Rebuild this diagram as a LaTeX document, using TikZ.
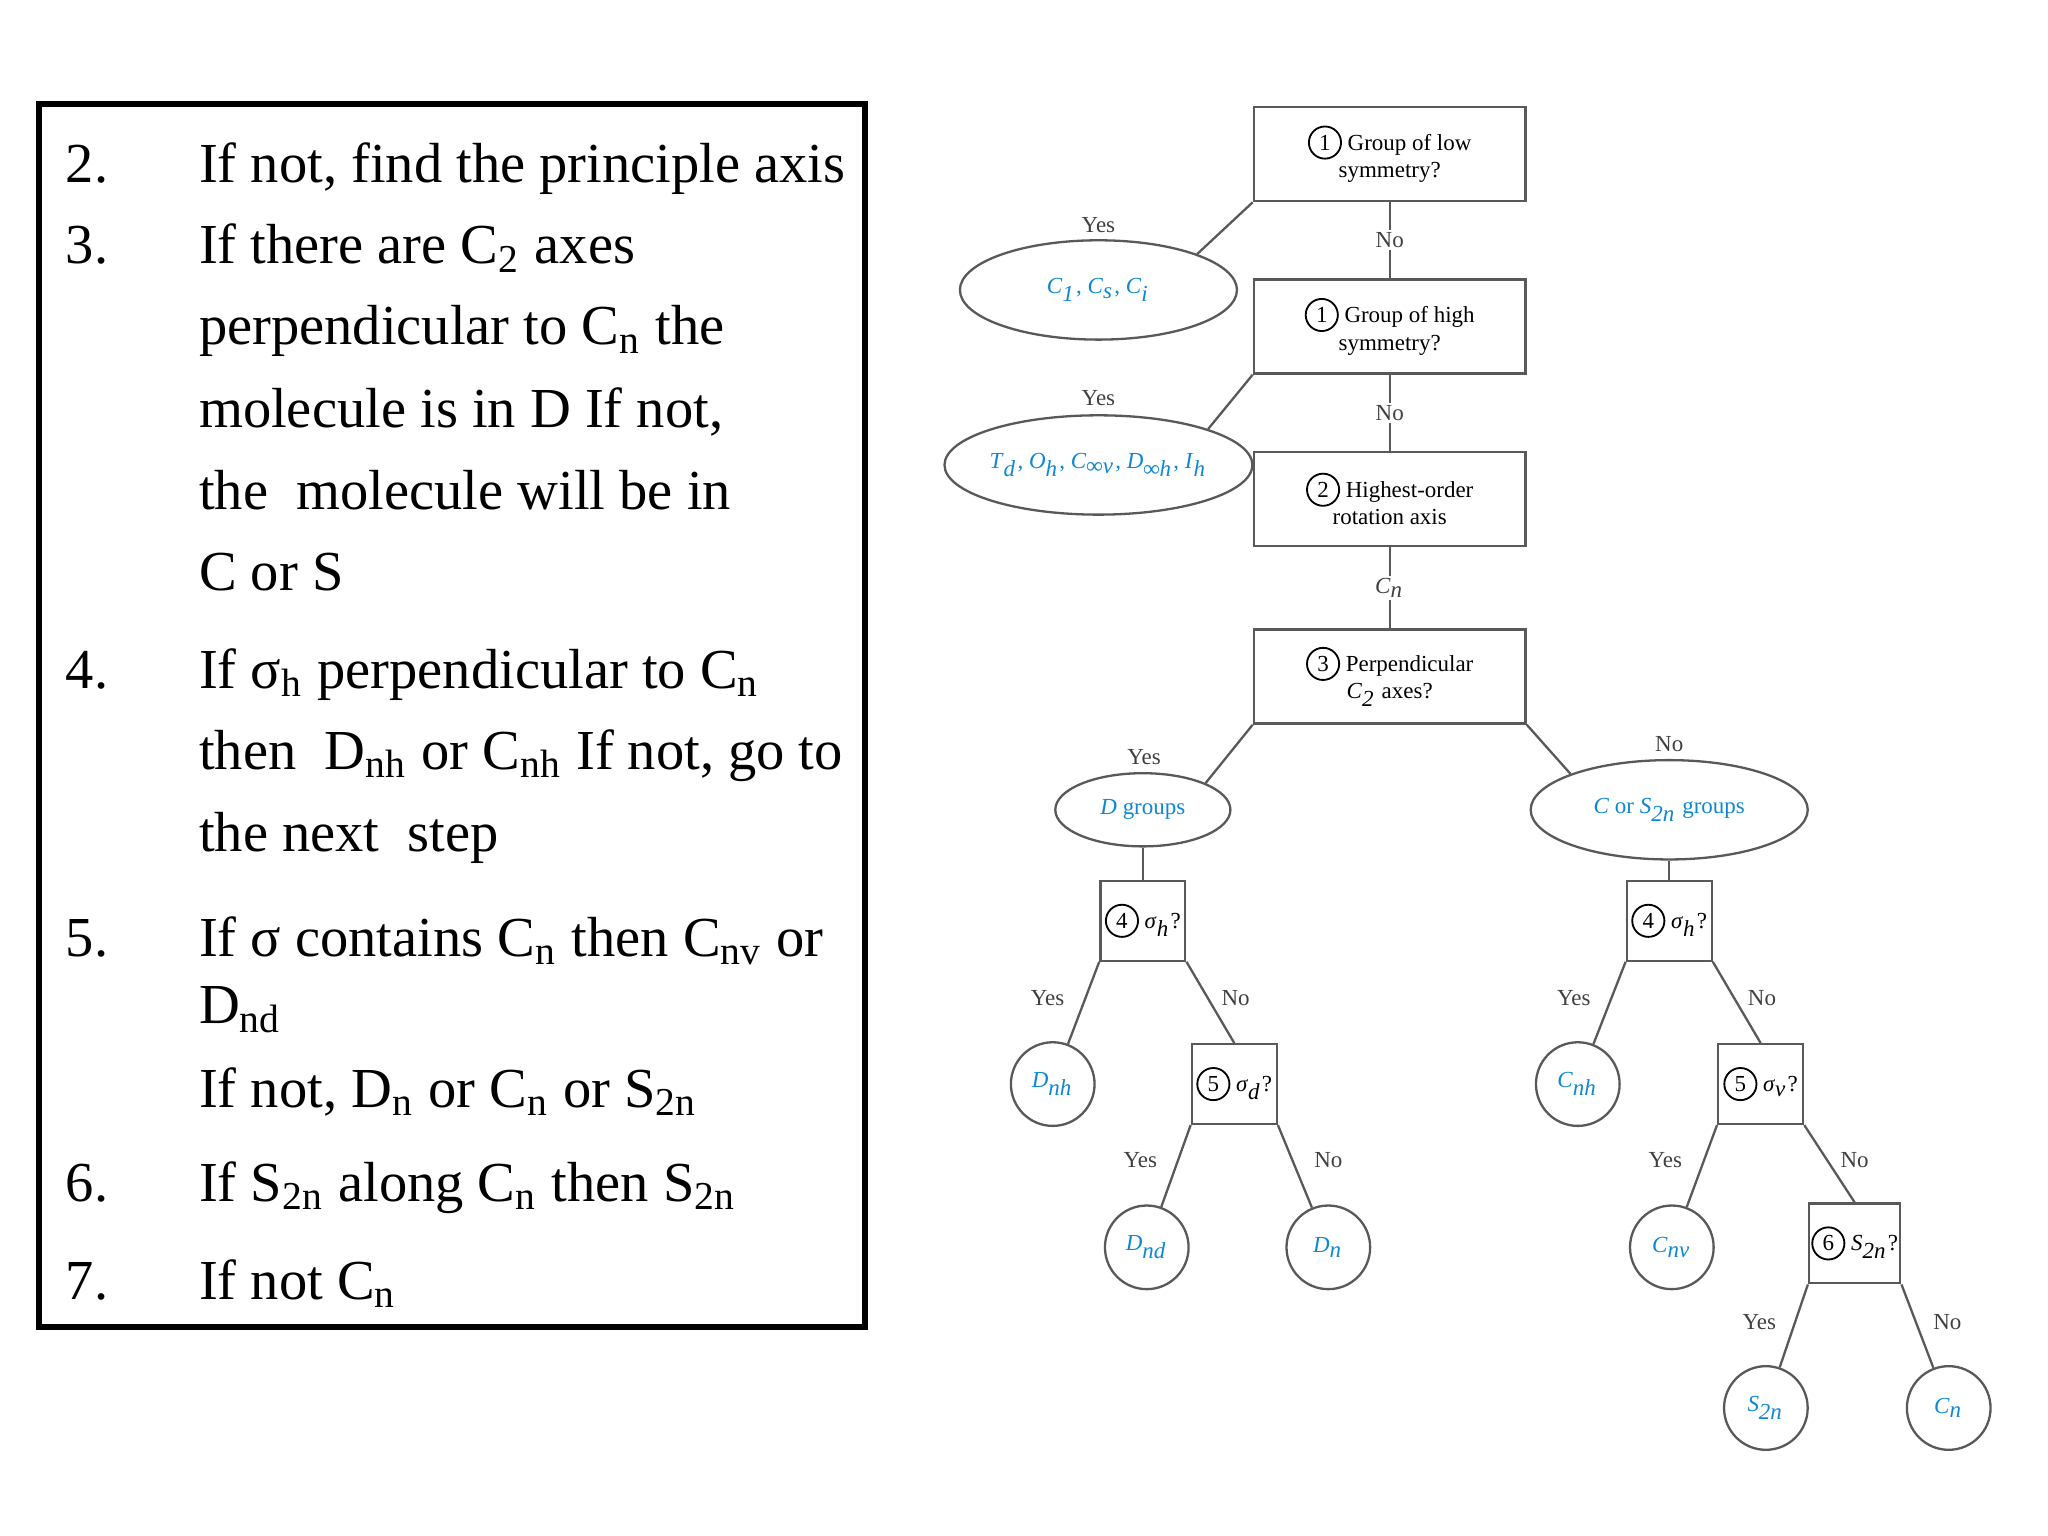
\documentclass[tikz,border=0pt]{standalone}
\usepackage{fontspec}
\usetikzlibrary{shapes.geometric}
\setmainfont{Liberation Serif}
\begin{document}
\newcommand{\cnum}[1]{\tikz[baseline=(cc.base)]\node[circle,draw,inner sep=0.2pt,minimum size=7pt,font=\fontsize{5}{5}\selectfont](cc){#1};}
\newcommand{\sub}[1]{\textsubscript{#1}}
\newcommand{\iv}[2]{\textit{#1}\textsubscript{\textit{#2}}}
\begin{tikzpicture}[x=0.01cm,y=-0.01cm,
  mt/.style={anchor=base west,font=\fontsize{12.3}{14}\selectfont},
  bx/.style={draw=black!65,line width=0.5pt,minimum width=2.08cm,minimum height=0.72cm,align=center,font=\fontsize{5}{6}\selectfont,inner sep=1pt},
  sb/.style={draw=black!65,line width=0.5pt,minimum width=0.65cm,minimum height=0.61cm,font=\fontsize{5}{6}\selectfont,inner sep=0.5pt},
  el/.style={draw=black!65,line width=0.5pt,ellipse,inner sep=0pt,text=cyan!70!blue,font=\fontsize{5}{6}\selectfont},
  ci/.style={draw=black!65,line width=0.5pt,circle,minimum size=0.64cm,inner sep=0pt,text=cyan!70!blue,font=\fontsize{5}{6}\selectfont},
  ln/.style={draw=black!65,line width=0.5pt},
  lb/.style={font=\fontsize{5}{6}\selectfont,text=black!75,fill=white,inner sep=0.5pt}]
\useasboundingbox (0,0) rectangle (1568,1176);
\fill[white] (0,0) rectangle (1568,1176);
\draw[line width=1.3pt] (30,80) rectangle (662,1016);
% left text
\foreach \n/\y in {2./140,3./202,4./527,5./732,6./920,7./995}{\node[mt] at (38,\y) {\n};}
\node[mt] (t1) at (140,140) {If not, find the principle axis};
\node[mt] (t2) at (140,202) {If there are C\sub{2} axes};
\node[mt] (t3) at (140,264) {perpendicular to C\sub{n} the};
\node[mt] (t4) at (140,327) {molecule is in D If not,};
\node[mt] (t5) at (140,390) {the \ molecule will be in};
\node[mt] (t6) at (140,452) {C or S};
\node[mt] (t7) at (140,527) {If σ\sub{h} perpendicular to C\sub{n}};
\node[mt] (t8) at (140,589) {then \ D\sub{nh} or C\sub{nh} If not, go to};
\node[mt] (t9) at (140,652) {the next \ step};
\node[mt] (t10) at (140,732) {If σ contains C\sub{n} then C\sub{nv} or};
\node[mt] (t11) at (140,784) {D\sub{nd}};
\node[mt] (t12) at (140,848) {If not, D\sub{n} or C\sub{n} or S\sub{2n}};
\node[mt] (t13) at (140,920) {If S\sub{2n} along C\sub{n} then S\sub{2n}};
\node[mt] (t14) at (140,995) {If not C\sub{n}};
% flowchart
\node[bx] (b1) at (1064,118) {\cnum{1} Group of low\\symmetry?};
\node[bx] (b2) at (1064,250) {\cnum{1} Group of high\\symmetry?};
\node[bx] (b3) at (1064,382) {\cnum{2} Highest-order\\rotation axis};
\node[bx] (b4) at (1064,518) {\cnum{3} Perpendicular\\\iv{C}{2} axes?};
\node[el,minimum width=2.12cm,minimum height=0.76cm] (e1) at (841,222) {\iv{C}{1}, \iv{C}{s}, \iv{C}{i}};
\node[el,minimum width=2.12cm,minimum height=0.76cm] (e2) at (841,356) {\iv{T}{d}, \iv{O}{h}, \iv{C}{∞v}, \iv{D}{∞h}, \iv{I}{h}};
\node[el,minimum width=1.34cm,minimum height=0.56cm] (e3) at (875,620) {\textit{D} groups};
\node[el,minimum width=2.12cm,minimum height=0.76cm] (e4) at (1278,620) {\textit{C} or \iv{S}{2n} groups};
\node[sb] (s1) at (875,705) {\cnum{4} \iv{σ}{h}?};
\node[sb] (s2) at (1278,705) {\cnum{4} \iv{σ}{h}?};
\node[sb] (s3) at (945,830) {\cnum{5} \iv{σ}{d}?};
\node[sb] (s4) at (1348,830) {\cnum{5} \iv{σ}{v}?};
\node[sb] (s5) at (1420,952) {\cnum{6} \iv{S}{2n}?};
\node[ci] (c1) at (806,830) {\iv{D}{nh}};
\node[ci] (c2) at (878,955) {\iv{D}{nd}};
\node[ci] (c3) at (1017,955) {\iv{D}{n}};
\node[ci] (c4) at (1208,830) {\iv{C}{nh}};
\node[ci] (c5) at (1280,955) {\iv{C}{nv}};
\node[ci] (c6) at (1352,1078) {\iv{S}{2n}};
\node[ci] (c7) at (1492,1078) {\iv{C}{n}};
\draw[ln] (b1) -- node[lb]{No} (b2);
\draw[ln] (b2) -- node[lb]{No} (b3);
\draw[ln] (b3) -- node[lb]{\iv{C}{n}} (b4);
\draw[ln] (e1.north east) -- (b1.south west);
\draw[ln] (e2.north east) -- (b2.south west);
\draw[ln] (e3.north east) -- (b4.south west);
\draw[ln] (e4.north west) -- (b4.south east);
\draw[ln] (e3) -- (s1);
\draw[ln] (e4) -- (s2);
\draw[ln] (s1.south west) -- (c1);
\draw[ln] (s1.south east) -- (s3.north);
\draw[ln] (s3.south west) -- (c2);
\draw[ln] (s3.south east) -- (c3);
\draw[ln] (s2.south west) -- (c4);
\draw[ln] (s2.south east) -- (s4.north);
\draw[ln] (s4.south west) -- (c5);
\draw[ln] (s4.south east) -- (s5.north);
\draw[ln] (s5.south west) -- (c6);
\draw[ln] (s5.south east) -- (c7);
\node[lb] (y1) at (841,172) {Yes};
\node[lb] (y2) at (841,305) {Yes};
\node[lb] (y3) at (876,580) {Yes};
\node[lb] (n3) at (1278,570) {No};
\node[lb] (y4) at (802,764) {Yes};
\node[lb] (n4) at (946,764) {No};
\node[lb] (y5) at (873,888) {Yes};
\node[lb] (n5) at (1017,888) {No};
\node[lb] (y6) at (1205,764) {Yes};
\node[lb] (n6) at (1349,764) {No};
\node[lb] (y7) at (1275,888) {Yes};
\node[lb] (n7) at (1420,888) {No};
\node[lb] (y8) at (1347,1012) {Yes};
\node[lb] (n8) at (1491,1012) {No};
\end{tikzpicture}
\end{document}
